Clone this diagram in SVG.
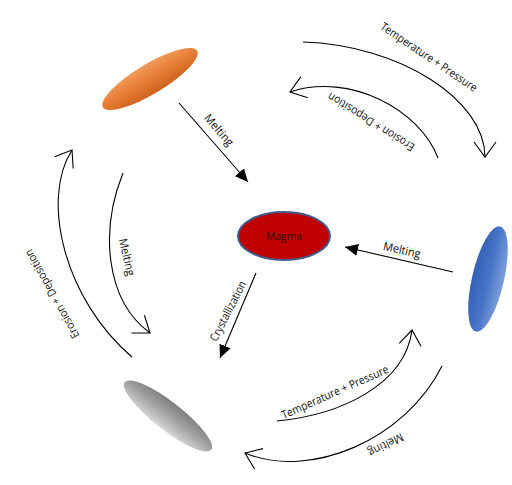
<svg xmlns="http://www.w3.org/2000/svg" width="512" height="485" viewBox="0 0 512 485">
<defs>
<linearGradient id="gOrange" x1="0" y1="0" x2="0" y2="1">
<stop offset="0" stop-color="#F29A5A"/>
<stop offset="0.5" stop-color="#E67C34"/>
<stop offset="1" stop-color="#CC631C"/>
</linearGradient>
<linearGradient id="gBlue" x1="0" y1="0" x2="1" y2="0">
<stop offset="0" stop-color="#3560B5"/>
<stop offset="0.5" stop-color="#4774C6"/>
<stop offset="1" stop-color="#7D9FDA"/>
</linearGradient>
<linearGradient id="gGray" x1="0" y1="0" x2="0" y2="1">
<stop offset="0" stop-color="#7E7E7E"/>
<stop offset="0.5" stop-color="#A4A4A4"/>
<stop offset="1" stop-color="#D8D8D8"/>
</linearGradient>
<marker id="tri" markerUnits="userSpaceOnUse" markerWidth="13" markerHeight="12" viewBox="0 0 13 12" refX="13" refY="6" orient="auto">
<path d="M0,0 L13,6 L0,12 z" fill="#000"/>
</marker>
<marker id="vee" markerUnits="userSpaceOnUse" markerWidth="22" markerHeight="26" viewBox="-18 -13 22 26" refX="0" refY="0" orient="auto">
<path d="M-15,-11 L0,0 L-15,11" fill="none" stroke="#000" stroke-width="1.1"/>
</marker>
<style>
.lbl{font-family:"Open Sans","Noto Sans","Liberation Sans",sans-serif;font-size:11.5px;fill:#111;text-anchor:middle}
.curve{fill:none;stroke:#000;stroke-width:1.1;marker-end:url(#vee)}
.straight{fill:none;stroke:#000;stroke-width:1.1;marker-end:url(#tri)}
</style>
</defs>
<rect width="512" height="485" fill="#fff"/>
<g id="orange-rock">
<ellipse cx="150" cy="79" rx="55" ry="15" fill="url(#gOrange)" transform="rotate(-31 150 79)"/>
</g>
<g id="blue-rock">
<ellipse cx="488" cy="279" rx="16" ry="54" fill="url(#gBlue)" transform="rotate(13 488 279)"/>
</g>
<g id="gray-rock">
<ellipse cx="168" cy="416" rx="55" ry="14" fill="url(#gGray)" transform="rotate(38 168 416)"/>
</g>
<g id="magma">
<ellipse cx="284" cy="236" rx="46" ry="24" fill="#C00000" stroke="#41598B" stroke-width="2"/>
<text class="lbl" x="284" y="236" dy="0.35em" textLength="36" lengthAdjust="spacingAndGlyphs" style="fill:#2a0a0a;font-size:11px">Magma</text>
</g>
<g id="connectors">
<path class="straight" d="M179,103 L248,182"/>
<path class="straight" d="M453,272 L345,247"/>
<path class="straight" d="M256,273 L220,358"/>
<path class="curve" d="M303,42 C400,45 485,100 485,157"/>
<path class="curve" d="M438,158 C420,110 350,72 290,92"/>
<path class="curve" d="M132,357 C65,300 40,200 72,150"/>
<path class="curve" d="M123,173 C100,230 105,300 150,333"/>
<path class="curve" d="M277,421 C340,415 405,385 412,330"/>
<path class="curve" d="M442,366 C405,440 310,480 245,453"/>
</g>
<g id="labels">
<text class="lbl" x="219" y="130" dy="0.35em" transform="rotate(49 219 130)" textLength="38" lengthAdjust="spacingAndGlyphs">Melting</text>
<text class="lbl" x="402" y="250" dy="0.35em" transform="rotate(13 402 250)" textLength="38" lengthAdjust="spacingAndGlyphs">Melting</text>
<text class="lbl" x="228" y="311" dy="0.35em" transform="rotate(-63 228 311)" textLength="66" lengthAdjust="spacingAndGlyphs">Crystallization</text>
<text class="lbl" x="429" y="57" dy="0.35em" transform="rotate(34 429 57)" textLength="114" lengthAdjust="spacingAndGlyphs">Temperature + Pressure</text>
<text class="lbl" x="371" y="122" dy="0.35em" transform="rotate(212 371 122)" textLength="100" lengthAdjust="spacingAndGlyphs">Erosion + Deposition</text>
<text class="lbl" x="52" y="294" dy="0.35em" transform="rotate(241 52 294)" textLength="100" lengthAdjust="spacingAndGlyphs">Erosion + Deposition</text>
<text class="lbl" x="127" y="257" dy="0.35em" transform="rotate(77 127 257)" textLength="38" lengthAdjust="spacingAndGlyphs">Melting</text>
<text class="lbl" x="335" y="392" dy="0.35em" transform="rotate(-24 335 392)" textLength="116" lengthAdjust="spacingAndGlyphs">Temperature + Pressure</text>
<text class="lbl" x="386" y="445" dy="0.35em" transform="rotate(153 386 445)" textLength="38" lengthAdjust="spacingAndGlyphs">Melting</text>
</g>
</svg>
